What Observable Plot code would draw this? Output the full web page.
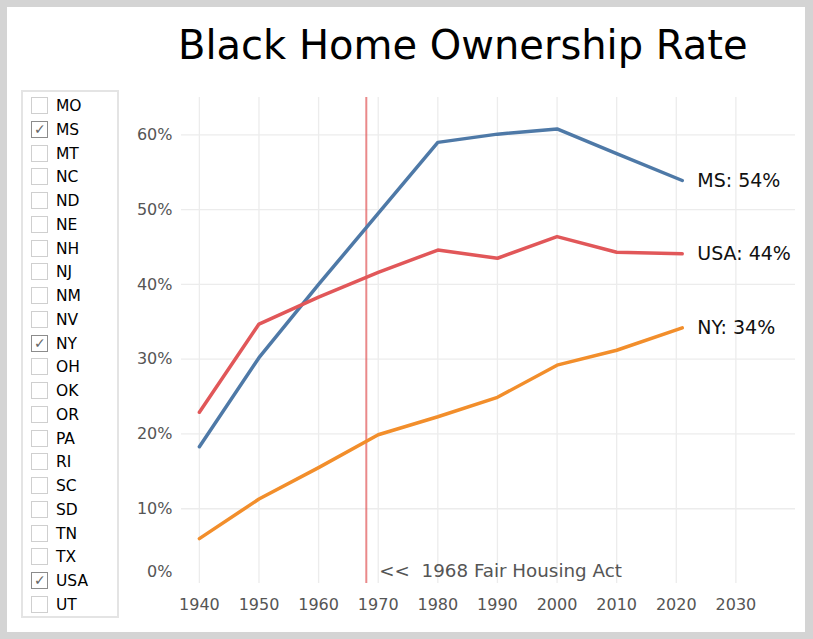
<!DOCTYPE html>
<html>
<head>
<meta charset="utf-8">
<script src="https://cdn.jsdelivr.net/npm/d3@7"></script>
<script src="https://cdn.jsdelivr.net/npm/@observablehq/plot@0.6"></script>
<style>
  body { margin: 0; background: #d4d4d4; font-family: "DejaVu Sans", Verdana, sans-serif; }
  #frame { position: absolute; left: 7px; top: 7px; width: 798px; height: 625px; background: #fff; }
  #title { position: absolute; left: 178px; top: 25px; font-size: 40px; line-height: 41px; color: #000; white-space: nowrap; }
  #legend { position: absolute; left: 21px; top: 90px; width: 98px; height: 528px; box-sizing: border-box; border: 2px solid #e4e4e4; }
  .row { position: absolute; left: 0; height: 20px; }
  .box { position: absolute; left: 8px; top: 1px; width: 17px; height: 17px; box-sizing: border-box; border: 1px solid #cfcfcf; background: #fff; }
  .box.on { border-color: #8c8c8c; }
  .box.on::after { content: "\2713"; position: absolute; left: 2px; top: -1px; font-size: 14px; line-height: 17px; color: #666; }
  .lab { position: absolute; left: 33px; top: 0; font-size: 15.5px; line-height: 20px; color: #000; white-space: nowrap; }
  #chart { position: absolute; left: 120px; top: 90px; }
</style>
</head>
<body>
<div id="frame"></div>
<div id="title">Black Home Ownership Rate</div>
<div id="legend"></div>
<div id="chart"></div>
<script>
// Filter list entries and the ones currently ticked
const states = ["MO","MS","MT","NC","ND","NE","NH","NJ","NM","NV","NY","OH","OK","OR","PA","RI","SC","SD","TN","TX","USA","UT"];
const selected = ["MS","NY","USA"];

// Black home ownership rate (%) by census year
const years   = [1940, 1950, 1960, 1970, 1980, 1990, 2000, 2010, 2021];
const msRate  = [18.3, 30.2, 40.0, 49.5, 59.0, 60.1, 60.8, 57.5, 53.9];
const usaRate = [22.9, 34.7, 38.3, 41.6, 44.6, 43.5, 46.4, 44.3, 44.1];
const nyRate  = [6.0, 11.3, 15.5, 19.9, 22.3, 24.9, 29.2, 31.2, 34.2];

const seriesNames  = ["MS", "USA", "NY"];
const seriesValues = [msRate, usaRate, nyRate];
const seriesColors = ["#4e79a7", "#e15759", "#f28e2b"];

const xTicks = [1940, 1950, 1960, 1970, 1980, 1990, 2000, 2010, 2020, 2030];
const yTicks = [10, 20, 30, 40, 50, 60];

const fairHousingYear = 1968;
const fairHousingNote = "<<\u00a0 1968 Fair Housing Act";

// Build the checkbox list
const legend = document.getElementById("legend");
states.forEach((s, i) => {
  const row = document.createElement("div");
  row.className = "row";
  row.style.top = (106 - 90 - 2 - 10 + i * 23.76) + "px";
  const box = document.createElement("div");
  box.className = "box" + (selected.includes(s) ? " on" : "");
  const lab = document.createElement("div");
  lab.className = "lab";
  lab.textContent = s;
  row.appendChild(box);
  row.appendChild(lab);
  legend.appendChild(row);
});

// Long-format table for the line marks
const rows = [];
seriesNames.forEach((name, k) => {
  years.forEach((yr, i) => rows.push({series: name, year: yr, rate: seriesValues[k][i]}));
});
const ends = seriesNames.map((name, k) => ({
  series: name,
  year: years[years.length - 1],
  rate: seriesValues[k][years.length - 1]
}));

const chart = Plot.plot({
  width: 685,
  height: 530,
  marginLeft: 61,
  marginRight: 10,
  marginTop: 7,
  marginBottom: 37,
  style: {fontFamily: "DejaVu Sans, Verdana, sans-serif", background: "transparent"},
  x: {domain: [1937, 2040]},
  y: {domain: [0, 65]},
  color: {domain: seriesNames, range: seriesColors},
  marks: [
    Plot.gridX(xTicks, {stroke: "#ececec", strokeOpacity: 1, strokeWidth: 1.3}),
    Plot.gridY(yTicks, {stroke: "#ececec", strokeOpacity: 1, strokeWidth: 1.3}),
    Plot.axisX(xTicks, {label: null, tickSize: 0, tickPadding: 15, tickFormat: d => String(d), fontSize: 16, color: "#555"}),
    Plot.axisY(yTicks, {label: null, tickSize: 0, tickPadding: 9, tickFormat: d => d + "%", fontSize: 16, color: "#555"}),
    Plot.axisY([0], {label: null, tickSize: 0, tickPadding: 9, tickFormat: d => d + "%", fontSize: 16, color: "#555", dy: -12}),
    Plot.ruleX([fairHousingYear], {stroke: "#e15759", strokeOpacity: 0.7, strokeWidth: 2}),
    Plot.text([fairHousingYear], {x: d => d, y: 0, text: () => fairHousingNote, textAnchor: "start", dx: 13, dy: -12, fontSize: 18.3, fill: "#555"}),
    Plot.line(rows, {x: "year", y: "rate", z: "series", stroke: "series", strokeWidth: 3.5, strokeLinejoin: "round", strokeLinecap: "round"}),
    Plot.text(ends, {x: "year", y: "rate", text: d => `${d.series}: ${Math.round(d.rate)}%`, textAnchor: "start", dx: 15, fontSize: 19, fill: "#111"})
  ]
});
document.getElementById("chart").appendChild(chart);
</script>
</body>
</html>
